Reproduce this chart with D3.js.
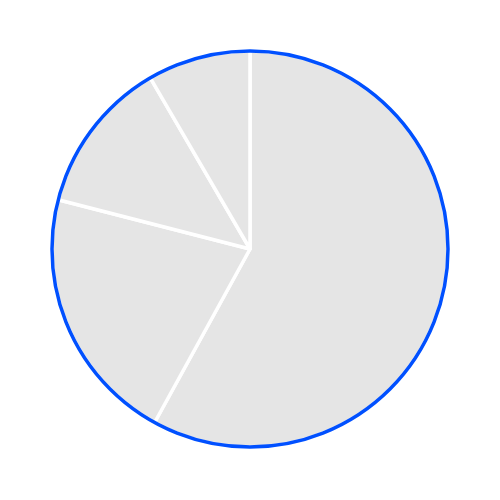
<!DOCTYPE html>
<html><head><meta charset="utf-8">
<script src="https://cdn.jsdelivr.net/npm/d3@7"></script>
<style>body{margin:0;background:#fff}</style>
</head><body>
<svg width="500" height="500"></svg>
<script>
const categories = ["A","B","C","D"];
const values = [58, 21, 12.6, 8.4];
const svg = d3.select("svg");
const g = svg.append("g").attr("transform","translate(250,249)");
const r = 198;
const pie = d3.pie().sort(null).value(d=>d)(values);
const arc = d3.arc().innerRadius(0).outerRadius(r);
g.selectAll("path.s").data(pie).join("path").attr("class","s")
  .attr("d",arc).attr("fill","#e5e5e5").attr("stroke","#fff").attr("stroke-width",3.5).attr("stroke-linejoin","round");
g.append("circle").attr("r",r).attr("fill","none").attr("stroke","#0050ff").attr("stroke-width",3.5);
</script>
</body></html>
